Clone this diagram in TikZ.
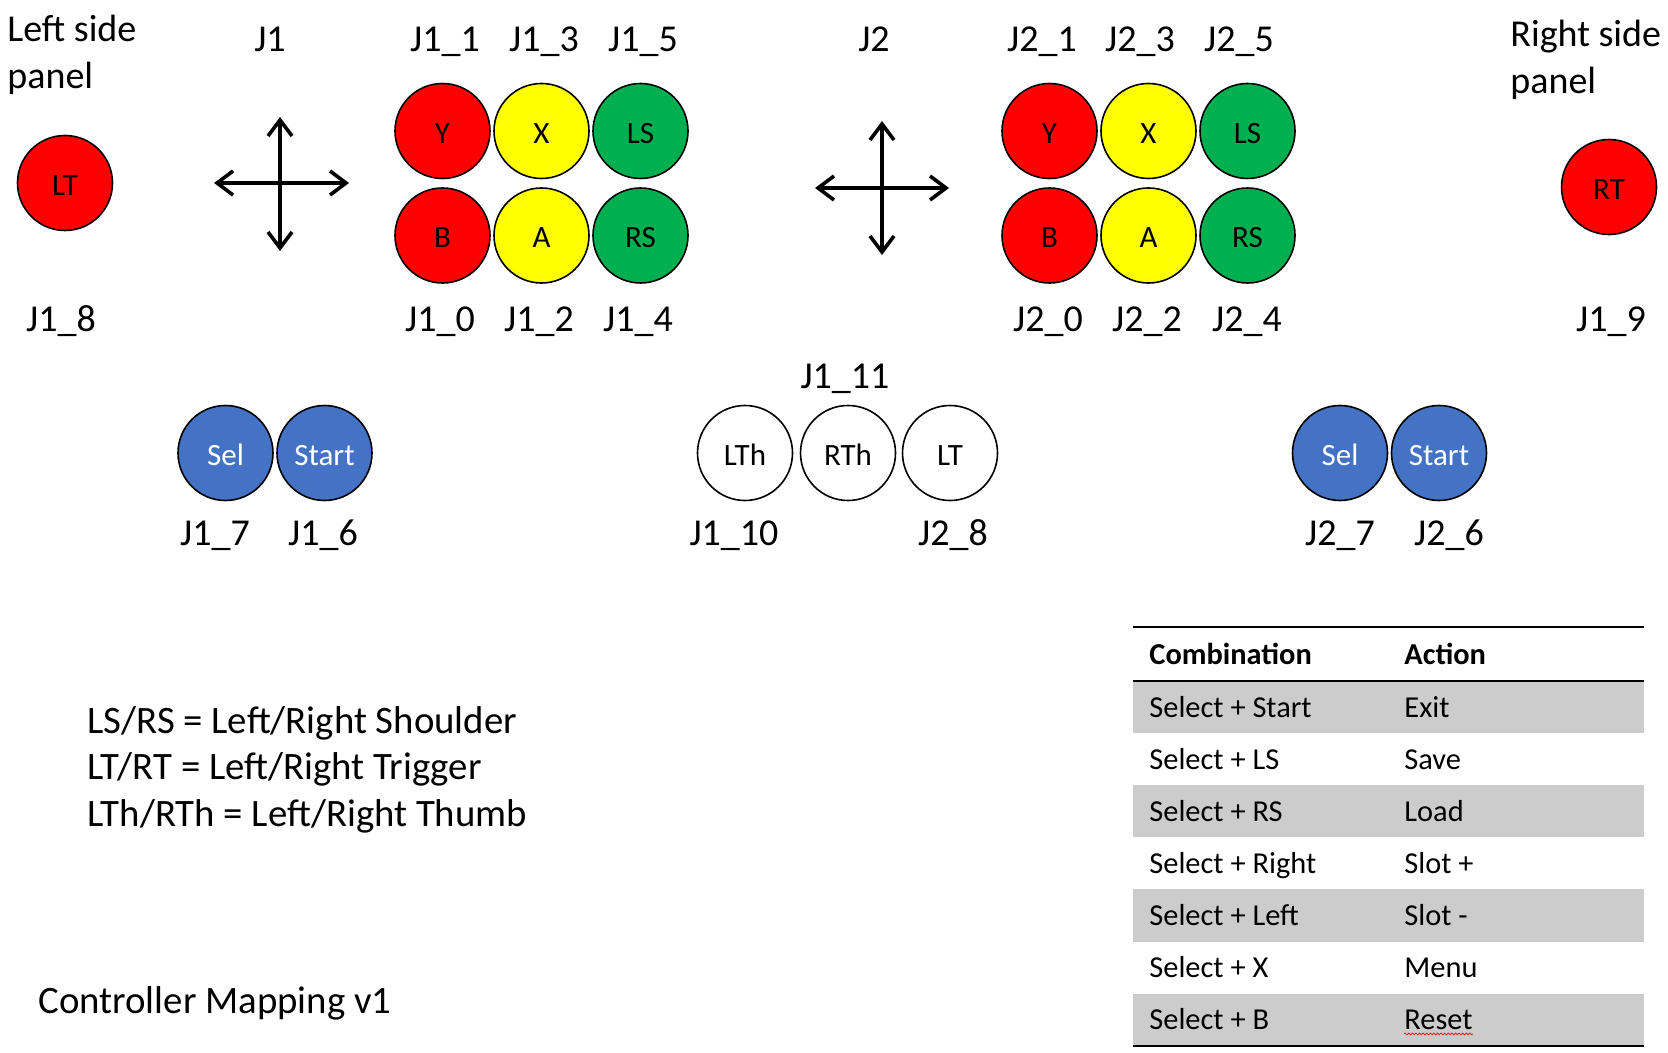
\documentclass[tikz,border=0pt]{standalone}
\usepackage{fontspec}
\setmainfont{Carlito}
\usetikzlibrary{arrows.meta,decorations.pathmorphing}
\definecolor{btnred}{HTML}{FF0000}
\definecolor{btnyellow}{HTML}{FFFF00}
\definecolor{btngreen}{HTML}{00B050}
\definecolor{btnblue}{HTML}{4472C4}
\definecolor{rowgray}{HTML}{CCCCCC}
\begin{document}
\begin{tikzpicture}[x=0.5pt,y=-0.5pt,
  btn/.style={circle,draw=black,line width=0.8pt,minimum size=47.5pt,inner sep=0pt,text height=12.5pt,text depth=0pt,font=\fontsize{15.5}{18}\selectfont},
  redbtn/.style={btn,fill=btnred},
  yelbtn/.style={btn,fill=btnyellow},
  grnbtn/.style={btn,fill=btngreen},
  bluebtn/.style={btn,fill=btnblue,text=white},
  whitebtn/.style={btn,fill=white},
  lbl/.style={anchor=base,inner sep=0pt,font=\fontsize{19}{23}\selectfont},
  dpad/.style={line width=1.8pt,{Straight Barb[length=8pt,width=12pt]}-{Straight Barb[length=8pt,width=12pt]}},
  tcell/.style={anchor=base west,inner sep=0pt,font=\fontsize{15.2}{18}\selectfont},
  trule/.style={line width=1.1pt}]
\useasboundingbox[fill=white] (0,0) rectangle (1668,1053);

% side panels (anchor = baseline of last line)
\node[anchor=base west,inner sep=0pt,align=left,font=\fontsize{19}{23.5}\selectfont] (lsp) at (7,89) {Left side\\panel};
\node[anchor=base west,inner sep=0pt,align=left,font=\fontsize{19}{23.5}\selectfont] (rsp) at (1510,94) {Right side\\panel};
\node[redbtn] (ltl) at (65,183) {LT};
\node[lbl] (j18) at (61,331) {J1\_8};
\node[redbtn] (rtr) at (1609,187) {RT};
\node[lbl] (j19) at (1611,331) {J1\_9};

% J1 dpad
\node[lbl] (j1) at (270,52) {J1};
\coordinate (j1l) at (214,183);
\coordinate (j1r) at (349,183);
\coordinate (j1t) at (280,117);
\coordinate (j1b) at (280,251);
\draw[dpad] (j1l) -- (j1r);
\draw[dpad] (j1t) -- (j1b);

% J1 buttons
\node[redbtn] (j1y) at (442.5,131) {Y};
\node[yelbtn] (j1x) at (541.5,131) {X};
\node[grnbtn] (j1ls) at (640.5,131) {LS};
\node[redbtn] (j1bb) at (442.5,235.5) {B};
\node[yelbtn] (j1a) at (541.5,235.5) {A};
\node[grnbtn] (j1rs) at (640.5,235.5) {RS};
\node[lbl] (l11) at (445,52) {J1\_1};
\node[lbl] (l13) at (544,52) {J1\_3};
\node[lbl] (l15) at (643,52) {J1\_5};
\node[lbl] (l10) at (440,331) {J1\_0};
\node[lbl] (l12) at (539,331) {J1\_2};
\node[lbl] (l14) at (638,331) {J1\_4};

% J2 dpad
\node[lbl] (j2) at (874,52) {J2};
\coordinate (j2l) at (815,188);
\coordinate (j2r) at (949,188);
\coordinate (j2t) at (882,121);
\coordinate (j2b) at (882,255);
\draw[dpad] (j2l) -- (j2r);
\draw[dpad] (j2t) -- (j2b);

% J2 buttons
\node[redbtn] (j2y) at (1049.5,131) {Y};
\node[yelbtn] (j2x) at (1148.5,131) {X};
\node[grnbtn] (j2ls) at (1247.5,131) {LS};
\node[redbtn] (j2bb) at (1049.5,235.5) {B};
\node[yelbtn] (j2a) at (1148.5,235.5) {A};
\node[grnbtn] (j2rs) at (1247.5,235.5) {RS};
\node[lbl] (l21) at (1042,52) {J2\_1};
\node[lbl] (l23) at (1140,52) {J2\_3};
\node[lbl] (l25) at (1239,52) {J2\_5};
\node[lbl] (l20) at (1048,331) {J2\_0};
\node[lbl] (l22) at (1147,331) {J2\_2};
\node[lbl] (l24) at (1247,331) {J2\_4};

% Select / Start left
\node[bluebtn] (sel1) at (225.5,453) {Sel};
\node[bluebtn] (sta1) at (324.5,453) {Start};
\node[lbl] (l17) at (215,545) {J1\_7};
\node[lbl] (l16) at (323,545) {J1\_6};

% thumbs
\node[whitebtn] (lth) at (745,453) {LTh};
\node[whitebtn] (rth) at (848,453) {RTh};
\node[whitebtn] (ltc) at (950,453) {LT};
\node[lbl] (l111) at (845,388) {J1\_11};
\node[lbl] (l110) at (734,545) {J1\_10};
\node[lbl] (l28) at (953,545) {J2\_8};

% Select / Start right
\node[bluebtn] (sel2) at (1340,453) {Sel};
\node[bluebtn] (sta2) at (1439,453) {Start};
\node[lbl] (l27) at (1340,545) {J2\_7};
\node[lbl] (l26) at (1449,545) {J2\_6};

% legend (anchor = baseline of last line)
\node[anchor=base west,inner sep=0pt,align=left,font=\fontsize{19.4}{23.15}\selectfont] (legend) at (87,826)
  {LS/RS = Left/Right Shoulder\\LT/RT = Left/Right Trigger\\LTh/RTh = Left/Right Thumb};
\node[anchor=base west,inner sep=0pt,font=\fontsize{19.4}{23}\selectfont] (title) at (38,1013) {Controller Mapping v1};

% table
\fill[rowgray] (1133,681) rectangle (1644,733.1);
\fill[rowgray] (1133,785.2) rectangle (1644,837.3);
\fill[rowgray] (1133,889.4) rectangle (1644,941.5);
\fill[rowgray] (1133,993.6) rectangle (1644,1045.7);
\draw[trule] (1133,627) -- (1644,627);
\draw[trule] (1133,681) -- (1644,681);
\draw[trule] (1133,1046) -- (1644,1046);
\node[tcell,font=\fontsize{15.2}{18}\selectfont\bfseries] (hc) at (1149,664) {Combination};
\node[tcell,font=\fontsize{15.2}{18}\selectfont\bfseries] (ha) at (1404,664) {Action};
\node[tcell] (c0) at (1149,717) {Select + Start};
\node[tcell] (a0) at (1404,717) {Exit};
\node[tcell] (c1) at (1149,769) {Select + LS};
\node[tcell] (a1) at (1404,769) {Save};
\node[tcell] (c2) at (1149,821) {Select + RS};
\node[tcell] (a2) at (1404,821) {Load};
\node[tcell] (c3) at (1149,873) {Select + Right};
\node[tcell] (a3) at (1404,873) {Slot +};
\node[tcell] (c4) at (1149,925) {Select + Left};
\node[tcell] (a4) at (1404,925) {Slot -};
\node[tcell] (c5) at (1149,977.5) {Select + X};
\node[tcell] (a5) at (1404,977.5) {Menu};
\node[tcell] (c6) at (1149,1029.5) {Select + B};
\node[tcell] (a6) at (1404,1029.5) {Reset};
\draw[red,line width=0.35pt,decorate,decoration={snake,amplitude=0.45pt,segment length=1.8pt}]
  ([yshift=-2.2pt]a6.base west) -- ([yshift=-2.2pt]a6.base east);
\end{tikzpicture}
\end{document}
